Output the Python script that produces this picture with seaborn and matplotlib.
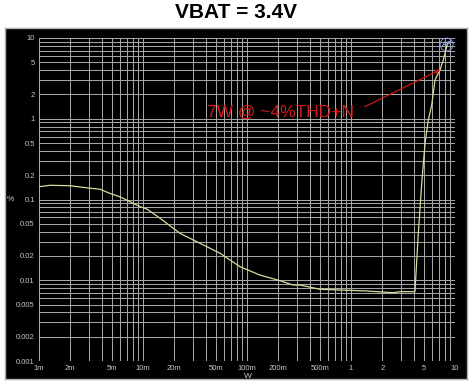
import matplotlib
matplotlib.use("Agg")
import matplotlib.pyplot as plt
import matplotlib.ticker as mticker
import seaborn as sns
import pandas as pd
import numpy as np

# Data (W vs %THD+N)
power_w = [0.001, 0.00128, 0.00199, 0.00309, 0.00386, 0.00482, 0.00601, 0.00935,
           0.0109, 0.0146, 0.0227, 0.0353, 0.055, 0.0857, 0.133, 0.208, 0.277,
           0.323, 0.504, 0.784, 1.425, 2.53, 2.96, 4.12, 4.44, 4.79, 5.15, 5.54,
           5.97, 6.42, 7.17, 7.72, 8.32, 8.51]
thd_pct = [0.144, 0.150, 0.148, 0.138, 0.134, 0.119, 0.108, 0.0815,
           0.0763, 0.0585, 0.0381, 0.0287, 0.0216, 0.0147, 0.0116, 0.00987, 0.00873,
           0.00873, 0.00773, 0.00757, 0.00736, 0.00701, 0.00722, 0.00722, 0.0385, 0.159, 0.497, 0.966,
           1.48, 3.02, 4.02, 5.34, 7.80, 8.60]

x_ticks = [0.001, 0.002, 0.005, 0.01, 0.02, 0.05, 0.1, 0.2, 0.5, 1, 2, 5, 10]
x_labels = ["1m", "2m", "5m", "10m", "20m", "50m", "100m", "200m", "500m", "1", "2", "5", "10"]
y_ticks = [0.001, 0.002, 0.005, 0.01, 0.02, 0.05, 0.1, 0.2, 0.5, 1, 2, 5, 10]
y_labels = ["0.001", "0.002", "0.005", "0.01", "0.02", "0.05", "0.1", "0.2", "0.5", "1", "2", "5", "10"]

title = "VBAT = 3.4V"
note = "7W @ ~4%THD+N"

df = pd.DataFrame({"W": power_w, "pct": thd_pct})

sns.set_style("dark")
plt.rcParams['font.family'] = ['Liberation Sans', 'DejaVu Sans']

fig = plt.figure(figsize=(4.74, 3.87), dpi=100)
fig.patch.set_facecolor("white")

# black instrument panel (background axes)
bg = fig.add_axes([5/474, 1 - 379/387, 462/474, 351/387], zorder=-5)
bg.set_facecolor("black")
bg.set_xticks([])
bg.set_yticks([])
bg.grid(False)
for s in bg.spines.values():
    s.set_visible(True)
    s.set_color("#b0b0b0")
    s.set_linewidth(1.0)

ax = fig.add_axes([39/474, 1 - 361/387, 416/474, 323/387], zorder=1)
ax.set_facecolor("black")

sns.lineplot(data=df, x="W", y="pct", sort=False, ax=ax, color="#dcdc9a",
             linewidth=0.9, zorder=5)

ax.set_xscale("log")
ax.set_yscale("log")
ax.set_xlim(0.001, 10)
ax.set_ylim(0.001, 10)

ax.xaxis.set_major_locator(mticker.FixedLocator(x_ticks))
ax.xaxis.set_major_formatter(mticker.FixedFormatter(x_labels))
ax.xaxis.set_minor_locator(mticker.LogLocator(base=10, subs=np.arange(1, 10)))
ax.xaxis.set_minor_formatter(mticker.NullFormatter())
ax.yaxis.set_major_locator(mticker.FixedLocator(y_ticks))
ax.yaxis.set_major_formatter(mticker.FixedFormatter(y_labels))
ax.yaxis.set_minor_locator(mticker.LogLocator(base=10, subs=np.arange(1, 10)))
ax.yaxis.set_minor_formatter(mticker.NullFormatter())

ax.grid(True, which="both", color="#ababab", linewidth=0.7)
ax.tick_params(which="both", length=0, colors="#c8c8c8", labelsize=5.5, pad=3)
for s in ax.spines.values():
    s.set_visible(False)

ax.set_xlabel("")
ax.set_ylabel("")
fig.text(248/474, 1 - 377/387, "W", color="#c8c8c8", fontsize=6, ha="center", va="center")
fig.text(10/474, 1 - 200/387, "%", color="#c8c8c8", fontsize=6, ha="center", va="center")

fig.text(0.498, 1 - 13/387, title, ha="center", va="center", fontsize=15,
         fontweight="bold", color="black")

ax.annotate(note, xy=(7.2, 4.05), xycoords="data",
            xytext=(207/474, 1 - 112/387), textcoords="figure fraction",
            color="#d81818", fontsize=12.5, ha="left", va="center", zorder=6,
            arrowprops=dict(arrowstyle="-|>", color="#c81818", lw=0.9,
                            mutation_scale=6, shrinkA=6, shrinkB=0,
                            relpos=(1.0, 0.5)))

# AP logo
ax.text(8.3, 8.3, "AP", color="#8fa8e8", fontsize=5.5, fontstyle="italic",
        fontweight="bold", ha="center", va="center", zorder=7,
        bbox=dict(boxstyle="circle,pad=0.15", facecolor="none",
                  edgecolor="#8fa8e8", linewidth=0.6))

fig.savefig("out.png", dpi=100, facecolor="white")
